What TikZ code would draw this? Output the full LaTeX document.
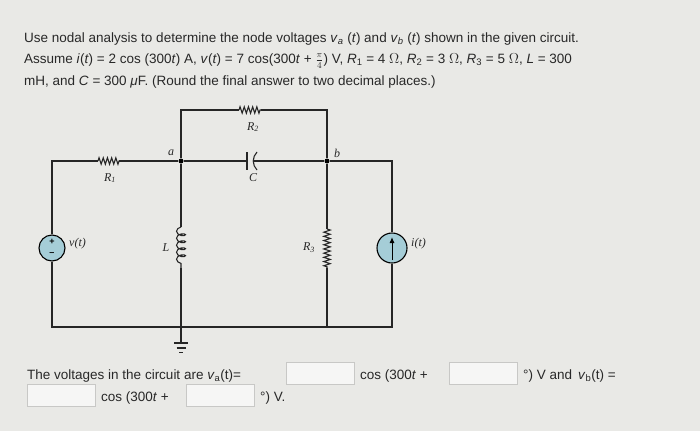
\documentclass[tikz,border=0pt]{standalone}
\usepackage{fontspec}
\setmainfont{Liberation Sans}
\newfontfamily\cserif{Liberation Serif}
\usetikzlibrary{decorations.pathmorphing,decorations.pathreplacing,arrows.meta}
\definecolor{bg}{RGB}{233,233,230}
\definecolor{src}{RGB}{165,205,215}
\definecolor{txt}{RGB}{40,40,40}
\definecolor{boxc}{RGB}{200,200,198}
\begin{document}
\begin{tikzpicture}[x=1pt,y=-1pt,
  wire/.style={line width=1.1pt,black!85},
  res/.style={wire,decorate,decoration={zigzag,segment length=4.2,amplitude=3.2}},
  lbl/.style={font=\cserif\itshape\fontsize{12}{12}\selectfont,text=txt,inner sep=1pt},
  body/.style={font=\fontsize{13.5}{16}\selectfont,text=txt,anchor=base west,inner sep=0},
  ans/.style={draw=boxc,fill=white!60!bg,minimum width=68,minimum height=22,inner sep=0},
  dot/.style={circle,fill=black,inner sep=0,minimum size=5}]
\useasboundingbox[fill=bg] (0,0) rectangle (700,431);
% text
\node[body] (t1) at (24,42) {Use nodal analysis to determine the node voltages \textit{v}\textsubscript{\textit{a}} (\textit{t}) and \textit{v}\textsubscript{\textit{b}} (\textit{t}) shown in the given circuit.};
\node[body] (t2) at (24,63.5) {Assume \textit{i}(\textit{t}) = 2 cos (300\textit{t}) A, \textit{v}(\textit{t}) = 7 cos(300\textit{t} + $\frac{\pi}{4}$) V, \textit{R}\textsubscript{1} = 4 $\Omega$, \textit{R}\textsubscript{2} = 3 $\Omega$, \textit{R}\textsubscript{3} = 5 $\Omega$, \textit{L} = 300};
\node[body] (t3) at (24,85) {mH, and \textit{C} = 300 \textit{μ}F. (Round the final answer to two decimal places.)};
% coordinates
\coordinate (tl) at (52,161);
\coordinate (bl) at (52,327);
\node[dot] (a) at (181,161) {};
\node[dot] (b) at (327,161) {};
\coordinate (ta) at (181,110);
\coordinate (tb) at (327,110);
\coordinate (tr) at (392,161);
\coordinate (br) at (392,327);
\coordinate (ga) at (181,327);
\coordinate (gb) at (327,327);
\coordinate (g) at (181,343);
% sources
\node[circle,draw,line width=1.1pt,fill=src,minimum size=26,inner sep=0] (v) at (52,248) {};
\node[font=\bfseries\small,inner sep=0] at (52,242) {+};
\node[font=\bfseries\small,inner sep=0] at (52,254) {–};
\node[circle,draw,line width=1.1pt,fill=src,minimum size=30,inner sep=0] (i) at (392,248) {};
\draw[line width=1pt,-{Latex[length=6,width=5]}] (392,260) -- (392,237);
% wires left
\draw[wire] (v.north) -- (tl) -- (98,161);
\draw[res] (98,161) -- (119,161);
\draw[wire] (119,161) -- (a);
\draw[wire] (v.south) -- (bl) -- (br) -- (i.south);
\draw[wire] (i.north) -- (tr) -- (b);
% R2
\draw[wire] (a) -- (ta) -- (239,110);
\draw[res] (239,110) -- (261,110);
\draw[wire] (261,110) -- (tb) -- (b);
% C
\draw[wire] (a) -- (247,161);
\draw[wire] (247,152) -- (247,170);
\draw[wire] (257,152) .. controls (252,157) and (252,165) .. (257,170);
\draw[wire] (253.5,161) -- (b);
% L
\draw[wire] (a) -- (181,227);
\draw[wire,decorate,decoration={coil,aspect=0.55,segment length=7,amplitude=4.5,mirror}] (181,227) -- (181,268);
\draw[wire] (181,268) -- (ga) -- (g);
% R3
\draw[wire] (b) -- (327,229);
\draw[res] (327,229) -- (327,268);
\draw[wire] (327,268) -- (gb);
% ground
\draw[wire] (174,343) -- (188,343);
\draw[wire] (176.5,348) -- (185.5,348);
\draw[wire] (179,352.5) -- (183,352.5);
% labels
\node[lbl] at (171,153) {a};
\node[lbl] at (337,153) {b};
\node[lbl] at (110,178) {R\textsubscript{1}};
\node[lbl] at (253,127) {R\textsubscript{2}};
\node[lbl] at (253,178) {C};
\node[lbl,anchor=west] at (68,244) {v(t)};
\node[lbl] at (166,248) {L};
\node[lbl] at (309,248) {R\textsubscript{3}};
\node[lbl,anchor=west] at (410,244) {i(t)};
% answer line
\node[body] (q1) at (27,379) {The voltages in the circuit are \textit{v}\textsubscript{a}(t)=};
\node[ans] (b1) at (320,373) {};
\node[body] (q2) at (360,379) {cos (300\textit{t} +};
\node[ans] (b2) at (483,373) {};
\node[body] (q3) at (523,379) {°) V and\, \textit{v}\textsubscript{b}(t) =};
\node[ans] (b3) at (61,395) {};
\node[body] (q4) at (101,401) {cos (300\textit{t} +};
\node[ans] (b4) at (220,395) {};
\node[body] (q5) at (260,401) {°) V.};
\end{tikzpicture}
\end{document}
